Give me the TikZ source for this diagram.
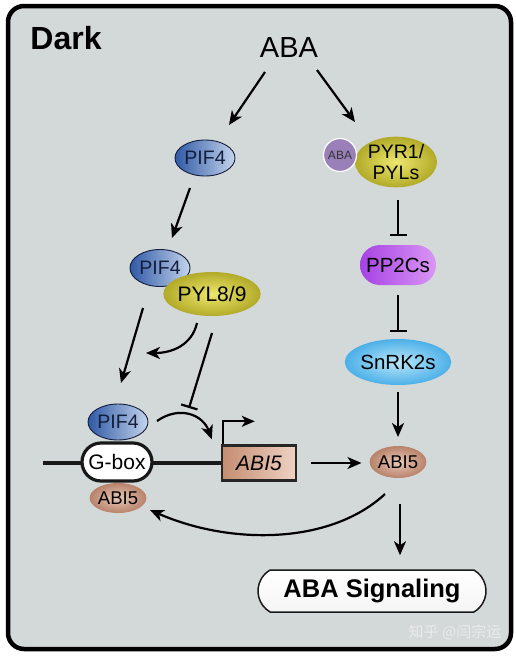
\documentclass[tikz,border=0pt]{standalone}
\usepackage{fontspec}
\setmainfont{Liberation Sans}
\newfontfamily\cjkfont{Noto Sans CJK SC}
\usetikzlibrary{shapes.geometric,shapes.misc,arrows.meta,calc}
\definecolor{bgc}{RGB}{211,216,216}
\definecolor{pifd}{RGB}{48,90,166}
\definecolor{pifl}{RGB}{196,212,236}
\definecolor{pifb}{RGB}{20,30,60}
\definecolor{yelin}{RGB}{236,232,110}
\definecolor{yelout}{RGB}{178,170,40}
\definecolor{purd}{RGB}{166,66,228}
\definecolor{purl}{RGB}{218,150,244}
\definecolor{bluin}{RGB}{186,230,250}
\definecolor{bluout}{RGB}{76,176,232}
\definecolor{brin}{RGB}{232,200,184}
\definecolor{brout}{RGB}{184,130,106}
\definecolor{boxd}{RGB}{196,140,112}
\definecolor{boxl}{RGB}{238,210,196}
\definecolor{abac}{RGB}{154,128,184}
\begin{document}
\begin{tikzpicture}[x=1pt,y=-1pt,
  prot/.style={ellipse, inner sep=0pt, align=center, text=black},
  fs/.style={font=\fontsize{#1}{#1}\selectfont},
  arr/.style={line width=2.2pt, -{Stealth[length=14pt,width=12pt,inset=4pt]}},
  inh/.style={line width=2.2pt, -{Bar[width=17pt,line width=2.2pt]}},
]
\useasboundingbox (0,0) rectangle (516,656);
\fill[white] (0,0) rectangle (516,656);
\draw[line width=4.5pt, fill=bgc, rounded corners=16pt] (8,6) rectangle (511,649);

% titles
\node[font=\bfseries\fontsize{32}{32}\selectfont] (dark) at (66,38) {Dark};
\node[fs=29] (aba) at (289,48) {ABA};

% right branch
\node[prot, minimum width=82pt, minimum height=50pt, inner color=yelin, outer color=yelout, fs=19.5, align=center] (pyr) at (396,162) {PYR1/\\[2pt]PYLs};
\node[circle, minimum size=33pt, inner sep=0pt, fill=abac, draw=white, line width=1.2pt, fs=12, text=black!80] (abas) at (340,155) {ABA};
\node[rounded rectangle, minimum width=76pt, minimum height=40pt, inner sep=0pt, left color=purd, right color=purl, fs=20.5] (pp2c) at (398,265) {PP2Cs};
\node[prot, minimum width=78pt, minimum height=46pt, inner color=bluin, outer color=bluout, fs=20.5] (snrk) at (398,362) {SnRK2s};
\node[prot, minimum width=52pt, minimum height=32pt, inner color=brin, outer color=brout, fs=18.5] (abi5r) at (398,462) {ABI5};

% left branch
\node[prot, minimum width=60pt, minimum height=36pt, left color=pifd, right color=pifl, draw=pifb, line width=0.9pt, fs=19.5, text=pifb] (pif4a) at (205,158) {PIF4};
\node[prot, minimum width=60pt, minimum height=37pt, left color=pifd, right color=pifl, draw=pifb, line width=0.9pt, fs=19.5, text=pifb] (pif4b) at (160,268) {PIF4};
\node[prot, minimum width=74pt, minimum height=44pt, inner color=yelin, outer color=yelout, fs=21] (pyl) at (212,294) {PYL8/9};

% DNA
\node[rectangle, minimum width=74pt, minimum height=35pt, inner sep=0pt, left color=boxd, right color=boxl, draw=black!85, line width=2.4pt, font=\itshape\fontsize{21}{21}\selectfont] (abi5g) at (259,463) {ABI5};
\coordinate (dnal) at (43,463);
\draw[line width=4.5pt, black!90] (dnal) -- (abi5g.west);
\node[prot, minimum width=60pt, minimum height=36pt, left color=pifd, right color=pifl, draw=pifb, line width=0.9pt, fs=19.5, text=pifb] (pif4c) at (118,422) {PIF4};
\node[rounded rectangle, minimum width=70pt, minimum height=38pt, inner sep=0pt, fill=white, draw=black!90, line width=3.2pt, fs=21] (gbox) at (117,462) {G-box};
\node[prot, minimum width=52pt, minimum height=30pt, inner color=brin, outer color=brout, fs=18.5] (abi5l) at (118,498) {ABI5};

% ABA signaling
\node[rounded rectangle, rounded rectangle arc length=120, minimum width=228pt, minimum height=42pt, inner sep=0pt, top color=white, bottom color=black!4, draw=black!90, line width=1.5pt, font=\bfseries\fontsize{25.5}{25.5}\selectfont] (sig) at (372,591) {ABA Signaling};

% connectors
\draw[arr] ($(aba)+(-24,24)$) -- ($(pif4a)+(24,-33)$);
\draw[arr] ($(aba)+(28,22)$) -- ($(pyr)+(-41,-40)$);
\draw[arr] ($(pif4a)+(-15,30)$) -- ($(pif4b)+(12,-30)$);
\draw[inh] ($(pyr)+(2,38)$) -- ($(pp2c)+(0,-29)$);
\draw[inh] ($(pp2c)+(0,30)$) -- ($(snrk)+(0,-30)$);
\draw[arr] ($(snrk)+(0,30)$) -- ($(abi5r)+(0,-25)$);
\draw[arr] ($(abi5g.east)+(14,0)$) -- ($(abi5g.east -| abi5r.west)+(-8,0)$);
\draw[arr] ($(abi5r)+(2,42)$) -- ($(sig.north)+(28,-14)$);
\draw[arr] ($(abi5r)+(-13,32)$) .. controls (330,545) and (230,545) .. ($(abi5l)+(32,12)$);
\draw[line width=1.8pt, -{Stealth[length=13pt,width=11pt,inset=3.5pt]}] ($(abi5g.north west)+(2,0)$) |- ($(abi5g.north west)+(34,-23)$);
\draw[arr] ($(pif4c)+(39,-1)$) .. controls (180,405) and (203,415) .. ($(abi5g.north west)+(-9,-5)$);
\draw[arr] ($(pif4b)+(-17,40)$) -- ($(pif4c)+(3,-39)$);
\draw[arr] ($(pyl)+(-15,29)$) .. controls (192,345) and (172,353) .. ($(pif4b)+(-14,85)$);
\draw[inh] ($(pyl)+(0,39)$) -- ($(pif4c)+(71,-14)$);

% watermark
\node[font=\cjkfont\fontsize{15}{15}\selectfont, text=white!92!black] (wm) at (455,632) {知乎 @闫宗运};
\end{tikzpicture}
\end{document}
